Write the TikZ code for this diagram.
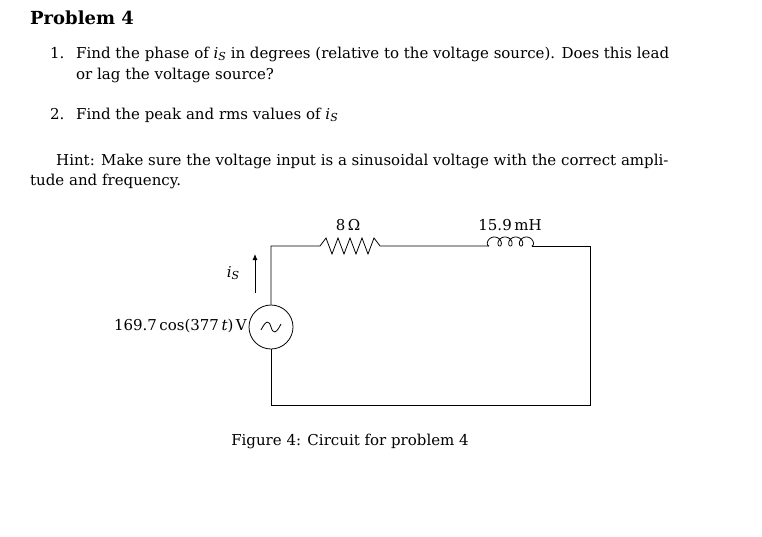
\documentclass[tikz,border=0pt]{standalone}
\usepackage{fontspec}
\setmainfont{DejaVu Serif}
\usetikzlibrary{arrows.meta}
\newcommand{\myiS}{\textit{i}\raisebox{-2.5pt}{\fontsize{11}{12}\selectfont\textit{S}}}
\begin{document}
\begin{tikzpicture}[x=1pt,y=-1pt,
  txt/.style={anchor=base west,inner sep=0pt,font=\fontsize{15}{18}\selectfont},
  lbl/.style={inner sep=0pt,font=\fontsize{15}{18}\selectfont},
  wire/.style={line width=0.8pt}]
\useasboundingbox (0,0) rectangle (762,536);
\node[txt,font=\fontsize{18}{20}\bfseries] (title) at (30,24) {Problem 4};
\node[txt] (n1) at (50,58) {1.};
\node[txt] (t1) at (76,58) {Find the phase of \myiS{} in degrees (relative to the voltage source). Does this lead};
\node[txt] (t1b) at (76,79) {or lag the voltage source?};
\node[txt] (n2) at (50,119) {2.};
\node[txt] (t2) at (76,119) {Find the peak and rms values of \myiS};
\node[txt] (h1) at (56,165) {Hint: Make sure the voltage input is a sinusoidal voltage with the correct ampli-};
\node[txt] (h2) at (30,185) {tude and frequency.};
% circuit
\coordinate (tl) at (271,246);
\coordinate (tr) at (590,246);
\coordinate (br) at (590,405);
\coordinate (bl) at (271,405);
\node[circle,draw,wire,minimum size=44pt,inner sep=0pt] (src) at (271,327) {};
\draw[wire] (src.north) -- (tl) -- (320,246)
  -- (326,238) -- (332,254) -- (338,238) -- (344,254) -- (350,238) -- (356,254) -- (362,238) -- (368,254) -- (374,238) -- (380,246)
  -- (489,246);
\draw[wire,smooth,samples=140,domain=0:25.13] plot ({489+1.7*\x-4*sin(\x r)},{246-4.5*(1-cos(\x r))});
\draw[wire] (531.7,246) -- (tr) -- (br) -- (bl) -- (src.south);
\draw[wire] (261,330) .. controls (266,320) and (269,320) .. (271,327) .. controls (273,334) and (276,334) .. (281,324);
\draw[wire,-{Latex[length=6pt,width=5pt]}] (255,293) -- (255,254);
\node[lbl] (is) at (233,273) {\myiS};
\node[lbl,anchor=east] (vs) at (247,326) {169.7\,cos(377\,\textit{t})\,V};
\node[lbl] (r) at (348,225) {8\,Ω};
\node[lbl] (l) at (510,225) {15.9\,mH};
\node[lbl] (cap) at (350,441) {Figure 4: Circuit for problem 4};
\end{tikzpicture}
\end{document}
